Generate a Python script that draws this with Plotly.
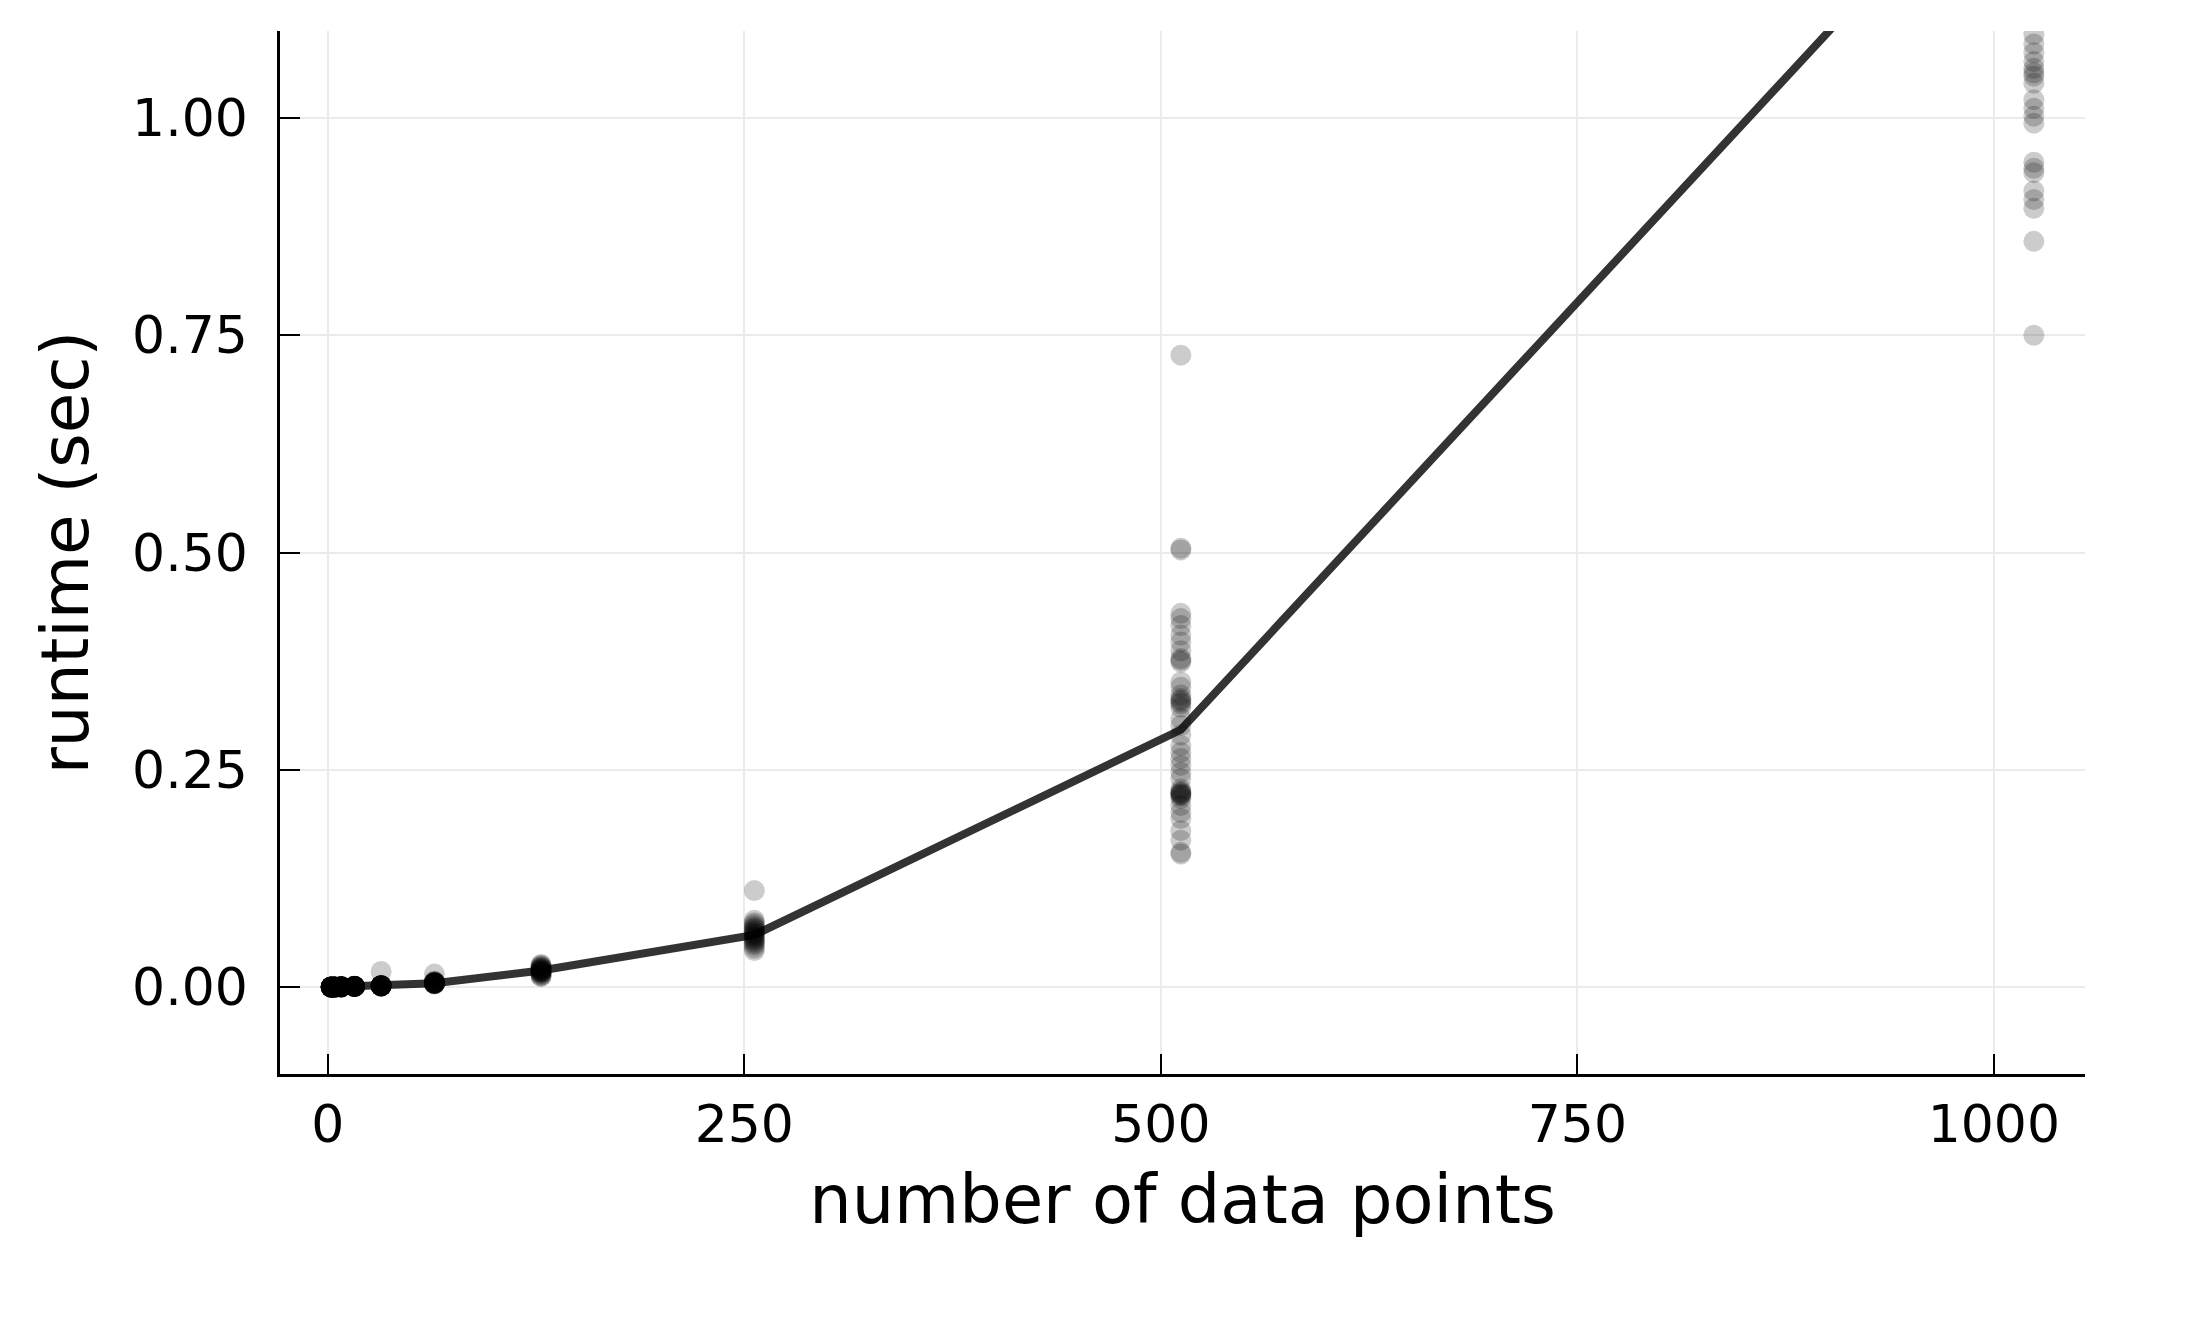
import plotly.graph_objects as go

# ---- data ----
sizes = [2, 4, 8, 16, 32, 64, 128, 256, 512, 1024]

rt_2 = [0.00003, 0.00004, 0.00004, 0.00005, 0.00005, 0.00005, 0.00006, 0.00006, 0.00007, 0.00008,
        0.00004, 0.00005, 0.00006, 0.00005, 0.00004, 0.00006, 0.00005, 0.00007, 0.00005, 0.00006]
rt_4 = [0.00010, 0.00011, 0.00012, 0.00012, 0.00013, 0.00014, 0.00012, 0.00011, 0.00013, 0.00015,
        0.00012, 0.00013, 0.00011, 0.00012, 0.00014, 0.00012, 0.00013, 0.00012, 0.00011, 0.00016]
rt_8 = [0.0003, 0.0003, 0.0004, 0.0004, 0.0004, 0.0004, 0.0005, 0.0004, 0.0003, 0.0004,
        0.0004, 0.0005, 0.0004, 0.0004, 0.0003, 0.0004, 0.0004, 0.0005, 0.0004, 0.0004]
rt_16 = [0.0007, 0.0007, 0.0008, 0.0008, 0.0008, 0.0009, 0.0008, 0.0007, 0.0008, 0.0009,
         0.0008, 0.0008, 0.0007, 0.0008, 0.0009, 0.0008, 0.0008, 0.0010, 0.0008, 0.0008]
rt_32 = [0.0012, 0.0013, 0.0014, 0.0014, 0.0015, 0.0015, 0.0016, 0.0014, 0.0013, 0.0015,
         0.0014, 0.0016, 0.0015, 0.0014, 0.0013, 0.0015, 0.0014, 0.0016, 0.0015, 0.0180]
rt_64 = [0.0035, 0.0038, 0.0040, 0.0042, 0.0044, 0.0045, 0.0046, 0.0048, 0.0050, 0.0052,
         0.0041, 0.0043, 0.0047, 0.0049, 0.0051, 0.0055, 0.0058, 0.0062, 0.0068, 0.0150]
rt_128 = [0.012, 0.013, 0.014, 0.015, 0.016, 0.017, 0.017, 0.018, 0.018, 0.019,
          0.019, 0.020, 0.020, 0.021, 0.022, 0.022, 0.023, 0.024, 0.025, 0.026]
rt_256 = [0.042, 0.045, 0.048, 0.050, 0.052, 0.054, 0.055, 0.057, 0.058, 0.060,
          0.061, 0.062, 0.064, 0.065, 0.067, 0.068, 0.070, 0.072, 0.074, 0.077, 0.111]
rt_512 = [0.727, 0.505, 0.503, 0.430, 0.424, 0.416, 0.405, 0.397, 0.387, 0.376,
          0.374, 0.378, 0.351, 0.345, 0.336, 0.332, 0.330, 0.328, 0.326, 0.322,
          0.309, 0.301, 0.290, 0.278, 0.270, 0.263, 0.255, 0.247, 0.240, 0.228,
          0.225, 0.224, 0.223, 0.222, 0.221, 0.220, 0.217, 0.209, 0.201, 0.194,
          0.180, 0.169, 0.155, 0.153]
rt_1024 = [1.096, 1.085, 1.075, 1.065, 1.057, 1.052, 1.048, 1.040, 1.021, 1.011,
           1.002, 0.994, 0.949, 0.942, 0.937, 0.916, 0.906, 0.896, 0.858, 0.750]

mean_runtime = [0.0001, 0.0002, 0.0004, 0.0008, 0.0016, 0.0045, 0.019, 0.060, 0.296, 1.354]

x_ticks = [0, 250, 500, 750, 1000]
x_tick_labels = ["0", "250", "500", "750", "1000"]
y_ticks = [0.0, 0.25, 0.5, 0.75, 1.0]
y_tick_labels = ["0.00", "0.25", "0.50", "0.75", "1.00"]

# ---- build scatter table ----
all_runs = [rt_2, rt_4, rt_8, rt_16, rt_32, rt_64, rt_128, rt_256, rt_512, rt_1024]
xs, ys = [], []
for n, runs in zip(sizes, all_runs):
    xs.extend([n] * len(runs))
    ys.extend(runs)

FONT = "DejaVu Sans"

fig = go.Figure()
fig.add_trace(go.Scatter(
    x=xs, y=ys, mode="markers",
    marker=dict(color="rgba(0,0,0,0.2)", size=21, line=dict(width=0)),
    showlegend=False, hoverinfo="skip",
))
fig.add_trace(go.Scatter(
    x=sizes, y=mean_runtime, mode="lines",
    line=dict(color="rgba(0,0,0,0.8)", width=8),
    showlegend=False,
))

axis_common = dict(
    showgrid=True, gridcolor="#ebebeb", gridwidth=1.5,
    showline=True, linecolor="black", linewidth=2.5,
    ticks="inside", ticklen=20, tickwidth=2, tickcolor="black",
    zeroline=False, mirror=False,
    tickfont=dict(family=FONT, size=52, color="black"),
)

# page body has an 8px margin: shift everything up/left by 8px
fig.update_layout(
    width=2194, height=1325,
    paper_bgcolor="white", plot_bgcolor="white",
    margin=dict(l=272, r=117, t=23, b=259, autoexpand=False),
    font=dict(family=FONT, color="black"),
    xaxis=dict(
        range=[-28.7, 1054.7], tickvals=x_ticks, ticktext=x_tick_labels,
        title=dict(text="number of data points", font=dict(family=FONT, size=67), standoff=23),
        ticklabelstandoff=3,
        **axis_common,
    ),
    yaxis=dict(
        range=[-0.1, 1.1], tickvals=y_ticks, ticktext=y_tick_labels,
        title=dict(text="runtime (sec)", font=dict(family=FONT, size=66), standoff=22),
        ticklabelstandoff=19,
        **axis_common,
    ),
)

fig.write_html("out.html")
